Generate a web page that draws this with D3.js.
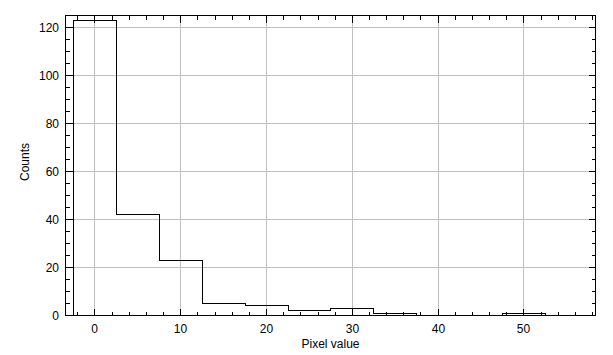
<!DOCTYPE html>
<html>
<head>
<meta charset="utf-8">
<script src="https://cdn.jsdelivr.net/npm/d3@7"></script>
<style>
	body { margin: 0; background: #fff; }
	text { font-family: "Liberation Sans", Arial, sans-serif; font-size: 12px; fill: #000; }
	.axis line { stroke: #000; }
	line, rect, path { shape-rendering: crispEdges; }
</style>
</head>
<body>
<div id="chart"></div>
<script>
// histogram data, bins of width 5 centred on these values
var binCenters = [0, 5, 10, 15, 20, 25, 30, 35, 40, 45, 50];
var counts = [123, 42, 23, 5, 4, 2, 3, 1, 0, 0, 1];
var xMajorTicks = [0, 10, 20, 30, 40, 50];
var yMajorTicks = [0, 20, 40, 60, 80, 100, 120];
var binWidth = 5;

var width = 613,
	height = 355;

// plot area edges (half pixels so 1px lines stay crisp)
var plotLeft = 65.5,
	plotRight = 595.5,
	plotTop = 15.5,
	plotBottom = 315.5;

var svg = d3.select("#chart")
	.append("svg")
	.attr("width", width)
	.attr("height", height);

var x = d3.scaleLinear()
	.domain([-3.38, 58.4])
	.range([plotLeft, plotRight]);
var y = d3.scaleLinear()
	.domain([0, 125])
	.range([plotBottom, plotTop]);

function px(v) { return Math.round(x(v)) + 0.5; }
function py(v) { return Math.round(y(v) - 0.5) + 0.5; }

// minor ticks every 2 on x, every 5 on y
var xMinor = d3.range(-2, 58.4, 2).filter(function(v) { return v % 10 !== 0; });
var yMinor = d3.range(5, 125, 5).filter(function(v) { return v % 20 !== 0; });

// grid lines
svg.append("g")
	.selectAll("line")
	.data(xMajorTicks)
	.enter()
	.append("line")
	.attr("x1", px)
	.attr("x2", px)
	.attr("y1", plotTop)
	.attr("y2", plotBottom)
	.attr("stroke", "#c0c0c0");
svg.append("g")
	.selectAll("line")
	.data(yMajorTicks.filter(function(d) { return d > 0; }))
	.enter()
	.append("line")
	.attr("x1", plotLeft)
	.attr("x2", plotRight)
	.attr("y1", py)
	.attr("y2", py)
	.attr("stroke", "#c0c0c0");

// step outline of the histogram
var pts = [[binCenters[0] - binWidth / 2, 0]];
binCenters.forEach(function(c, i) {
	pts.push([c - binWidth / 2, counts[i]]);
});
var last = binCenters.length - 1;
pts.push([binCenters[last] + binWidth / 2, counts[last]]);
pts.push([binCenters[last] + binWidth / 2, 0]);

var line = d3.line()
	.x(function(d) { return px(d[0]); })
	.y(function(d) { return py(d[1]); })
	.curve(d3.curveStepAfter);

svg.append("path")
	.datum(pts)
	.attr("d", line)
	.attr("fill", "none")
	.attr("stroke", "#000")
	.attr("stroke-width", 1);

// inward ticks on all four sides
function tickGroup(vals, len, orient) {
	var g = svg.append("g").attr("class", "axis");
	vals.forEach(function(v) {
		var l = g.append("line");
		if (orient === "bottom") {
			l.attr("x1", px(v)).attr("x2", px(v)).attr("y1", plotBottom).attr("y2", plotBottom - len);
		} else if (orient === "top") {
			l.attr("x1", px(v)).attr("x2", px(v)).attr("y1", plotTop).attr("y2", plotTop + len);
		} else if (orient === "left") {
			l.attr("y1", py(v)).attr("y2", py(v)).attr("x1", plotLeft).attr("x2", plotLeft + len);
		} else {
			l.attr("y1", py(v)).attr("y2", py(v)).attr("x1", plotRight).attr("x2", plotRight - len);
		}
	});
}
["bottom", "top"].forEach(function(o) {
	tickGroup(xMajorTicks, 7, o);
	tickGroup(xMinor, 4, o);
});
["left", "right"].forEach(function(o) {
	tickGroup(yMajorTicks, 7, o);
	tickGroup(yMinor, 4, o);
});

// tick labels
svg.append("g")
	.selectAll("text")
	.data(xMajorTicks)
	.enter()
	.append("text")
	.attr("x", px)
	.attr("y", 333)
	.attr("text-anchor", "middle")
	.text(function(d) { return d; });
svg.append("g")
	.selectAll("text")
	.data(yMajorTicks)
	.enter()
	.append("text")
	.attr("x", 59)
	.attr("y", function(d) { return py(d) + 4.5; })
	.attr("text-anchor", "end")
	.text(function(d) { return d; });

// frame
svg.append("rect")
	.attr("x", plotLeft)
	.attr("y", plotTop)
	.attr("width", plotRight - plotLeft)
	.attr("height", plotBottom - plotTop)
	.attr("fill", "none")
	.attr("stroke", "#000");

// axis titles
svg.append("text")
	.attr("x", (plotLeft + plotRight) / 2)
	.attr("y", 348)
	.attr("text-anchor", "middle")
	.text("Pixel value");
svg.append("text")
	.attr("transform", "translate(29,162) rotate(-90)")
	.attr("text-anchor", "middle")
	.text("Counts");
</script>
</body>
</html>
